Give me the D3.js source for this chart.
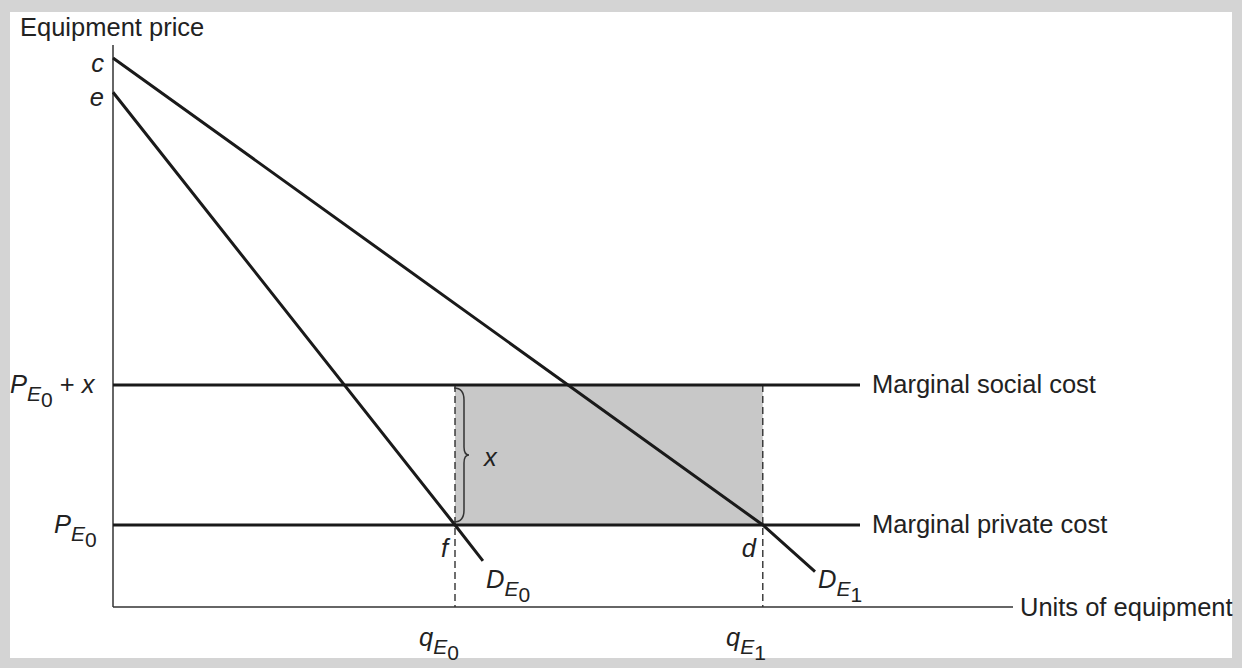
<!DOCTYPE html>
<html><head><meta charset="utf-8">
<script src="https://cdn.jsdelivr.net/npm/d3@7"></script>
<style>body{margin:0;background:#d4d4d4}svg{display:block}text{font-family:"Liberation Sans",Arial,sans-serif;fill:#222}</style>
</head><body><svg id="chart" width="1242" height="668"></svg>
<script>
// demand curves: [x, y] in chart units (0-100)
const demandE0 = [[0, 91.6], [38, 14.6], [41.1, 8.2]];
const demandE1 = [[0, 97.7], [72.2, 14.6], [78, 6.3]];
const marginalSocial = 39.5;
const marginalPrivate = 14.6;
const costLineEnd = 83;
const qE0 = 38, qE1 = 72.2;

const svg = d3.select('#chart');
svg.append('rect').attr('x', 10).attr('y', 12).attr('width', 1222).attr('height', 646).attr('fill', '#fff');

const x = d3.scaleLinear().domain([0, 100]).range([113, 1013]);
const y = d3.scaleLinear().domain([0, 100]).range([607, 45]);

// shaded area
svg.append('rect')
  .attr('x', x(qE0)).attr('y', y(marginalSocial))
  .attr('width', x(qE1) - x(qE0)).attr('height', y(marginalPrivate) - y(marginalSocial))
  .attr('fill', '#c8c8c8');

// dashed verticals
[qE0, qE1].forEach(q => {
  svg.append('line').attr('x1', x(q)).attr('x2', x(q))
    .attr('y1', y(marginalSocial)).attr('y2', y(0))
    .attr('stroke', '#222').attr('stroke-width', 1.3).attr('stroke-dasharray', '7,4');
});

// axes
svg.append('line').attr('x1', x(0)).attr('x2', x(0)).attr('y1', y(0)).attr('y2', y(100)).attr('stroke', '#333').attr('stroke-width', 1.5);
svg.append('line').attr('x1', x(0)).attr('x2', x(100)).attr('y1', y(0)).attr('y2', y(0)).attr('stroke', '#333').attr('stroke-width', 1.5);

// cost lines
[marginalSocial, marginalPrivate].forEach(v => {
  svg.append('line').attr('x1', x(0)).attr('x2', x(costLineEnd)).attr('y1', y(v)).attr('y2', y(v))
    .attr('stroke', '#1a1a1a').attr('stroke-width', 3);
});

const line = d3.line().x(d => x(d[0])).y(d => y(d[1]));
[demandE0, demandE1].forEach(d => {
  svg.append('path').attr('d', line(d)).attr('fill', 'none').attr('stroke', '#1a1a1a').attr('stroke-width', 3);
});

// brace
const bx = x(qE0) - 1, by0 = y(marginalSocial) + 3, by1 = y(marginalPrivate) - 3, bm = (by0 + by1) / 2;
svg.append('path')
  .attr('d', `M${bx},${by0} Q${bx + 10},${by0} ${bx + 10},${by0 + 12} L${bx + 10},${bm - 8} Q${bx + 10},${bm} ${bx + 15},${bm} Q${bx + 10},${bm} ${bx + 10},${bm + 8} L${bx + 10},${by1 - 12} Q${bx + 10},${by1} ${bx},${by1}`)
  .attr('fill', 'none').attr('stroke', '#333').attr('stroke-width', 1.5);

function label(px, py, parts, anchor, size) {
  const t = svg.append('text').attr('x', px).attr('y', py).attr('text-anchor', anchor || 'start').attr('font-size', size || 25.5);
  parts.forEach(p => {
    const s = t.append('tspan').text(p.t);
    if (p.i) s.attr('font-style', 'italic');
    if (p.sub) s.attr('font-size', 21).attr('dy', p.dy || 8);
    if (p.up) s.attr('dy', -p.up);
    if (p.size) s.attr('font-size', p.size);
  });
  return t;
}

label(20, 36, [{t: 'Equipment price'}]);
label(104, 72, [{t: 'c', i: true}], 'end');
label(104, 106, [{t: 'e', i: true}], 'end');
label(10, 393, [{t: 'P', i: true}, {t: 'E', i: true, sub: true}, {t: '0', sub: true, size: 21, dy: 6}, {t: ' + ', up: 14}, {t: 'x', i: true}]);
label(54, 533, [{t: 'P', i: true}, {t: 'E', i: true, sub: true}, {t: '0', sub: true, size: 21, dy: 6}]);
label(872, 393, [{t: 'Marginal social cost'}]);
label(872, 533, [{t: 'Marginal private cost'}]);
label(1020, 616, [{t: 'Units of equipment'}]);
label(484, 466, [{t: 'x', i: true}]);
label(448, 557, [{t: 'f', i: true}], 'end');
label(756, 557, [{t: 'd', i: true}], 'end');
label(486, 588, [{t: 'D', i: true}, {t: 'E', i: true, sub: true}, {t: '0', sub: true, size: 21, dy: 6}]);
label(818, 588, [{t: 'D', i: true}, {t: 'E', i: true, sub: true}, {t: '1', sub: true, size: 21, dy: 6}]);
label(419, 646, [{t: 'q', i: true}, {t: 'E', i: true, sub: true, dy: 0}, {t: '0', sub: true, size: 21, dy: 6}]);
label(726, 646, [{t: 'q', i: true}, {t: 'E', i: true, sub: true, dy: 0}, {t: '1', sub: true, size: 21, dy: 6}]);
</script></body></html>
